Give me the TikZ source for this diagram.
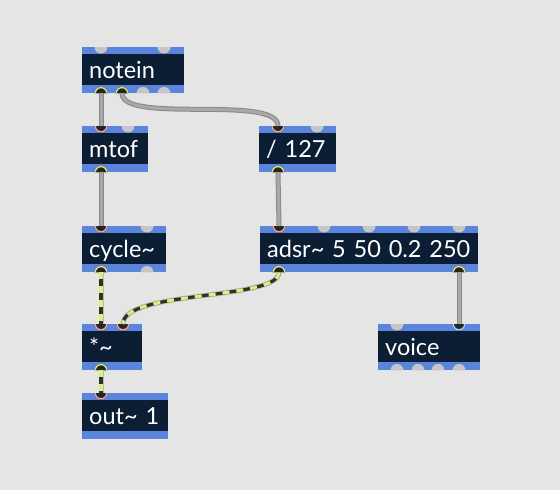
\documentclass[tikz,border=0pt]{standalone}
\usepackage{fontspec}
\setmainfont{Lato}
\usetikzlibrary{calc}

\definecolor{patchbg}{HTML}{E5E5E5}
\definecolor{objdark}{HTML}{0C1E34}
\definecolor{objblue}{HTML}{5B84DC}
\definecolor{portgrey}{HTML}{C6C6C6}
\definecolor{portdark}{HTML}{252525}
\definecolor{inring}{HTML}{F2A592}
\definecolor{outring}{HTML}{D9E46E}
\definecolor{sigring}{HTML}{9FDCF2}
\definecolor{cablegrey}{HTML}{A8A8A8}
\definecolor{cableedge}{HTML}{8A8A8A}
\definecolor{sigyellow}{HTML}{D8F07E}
\definecolor{sigdark}{HTML}{2E3322}

\newcommand{\tld}{\textasciitilde}

% grey (unused) inlets and outlets
\newcommand{\greyin}[2]{%
  \fill[portgrey] ($(#1.north west)+(#2,0)+(-6.5pt,0)$) arc[start angle=180,end angle=360,radius=6.5pt] -- cycle;}
\newcommand{\greyout}[2]{%
  \fill[portgrey] ($(#1.south west)+(#2,0)+(-6.5pt,0)$) arc[start angle=180,end angle=0,radius=6.5pt] -- cycle;}

% connected inlets and outlets
\newcommand{\portin}[4]{%
  \coordinate (#1) at ($(#2.north west)+(#3,0)$);
  \fill[portdark] ([xshift=-6.5pt]#1) arc[start angle=180,end angle=360,radius=6.5pt] -- cycle;
  \draw[#4, line width=1.4pt] ([xshift=-5.8pt]#1) arc[start angle=180,end angle=360,radius=5.8pt];}
\newcommand{\portout}[4]{%
  \coordinate (#1) at ($(#2.south west)+(#3,0)$);
  \fill[portdark] ([xshift=-6.5pt]#1) arc[start angle=180,end angle=0,radius=6.5pt] -- cycle;
  \draw[#4, line width=1.4pt] ([xshift=-5.8pt]#1) arc[start angle=180,end angle=0,radius=5.8pt];}

\tikzset{
  maxobj/.style={rectangle, anchor=north west, fill=objdark, text=white,
    font=\fontsize{23.5}{27}\selectfont, text width=#1, align=left,
    text height=18pt, text depth=2pt, minimum height=46pt,
    inner xsep=7pt, inner ysep=0pt,
    path picture={
      \fill[objblue] (path picture bounding box.north west) rectangle ([yshift=-7pt]path picture bounding box.north east);
      \fill[objblue] (path picture bounding box.south west) rectangle ([yshift=8pt]path picture bounding box.south east);}},
  patchcord/.style={draw=cableedge, line width=1pt, double=cablegrey, double distance=3pt},
  sigcord/.style={draw=cableedge!60, line width=5pt,
    postaction={draw=sigdark, line width=3.2pt},
    postaction={draw=sigyellow, line width=3.2pt, dash pattern=on 7pt off 7pt}},
}

\begin{document}
\begin{tikzpicture}[x=1pt, y=-1pt]
  \useasboundingbox[fill=patchbg] (0,0) rectangle (560,490);

  % objects
  \node[maxobj=88pt] (notein) at (82,47) {notein};
  \node[maxobj=52pt] (mtof) at (82,126) {mtof};
  \node[maxobj=63pt] (div) at (259,126) {/ 127};
  \node[maxobj=70pt] (cycle) at (82,226) {cycle\tld};
  \node[maxobj=204pt] (adsr) at (260,226) {adsr\tld{} 5 50 0.2 250};
  \node[maxobj=46pt] (mul) at (82,324) {*\tld};
  \node[maxobj=72pt] (dac) at (82,393) {out\tld{} 1};
  \node[maxobj=88pt] (voice) at (378,324) {voice};

  % ports
  \greyin{notein}{19} \greyin{notein}{82}
  \portout{noteout1}{notein}{19}{outring}
  \portout{noteout2}{notein}{40}{outring}
  \greyout{notein}{61} \greyout{notein}{82}

  \portin{mtofin}{mtof}{19}{inring} \greyin{mtof}{46}
  \portout{mtofout}{mtof}{19}{outring}

  \portin{divin}{div}{19}{inring} \greyin{div}{58}
  \portout{divout}{div}{19}{outring}

  \portin{cyclein}{cycle}{19}{inring} \greyin{cycle}{65}
  \portout{cycleout}{cycle}{19}{outring} \greyout{cycle}{65}

  \portin{adsrin}{adsr}{19}{inring}
  \foreach \px in {64,109,154,199} {\greyin{adsr}{\px}}
  \portout{adsrout1}{adsr}{19}{outring}
  \portout{adsrout2}{adsr}{199}{outring}

  \portin{mulin1}{mul}{19}{inring}
  \portin{mulin2}{mul}{41}{inring}
  \portout{mulout}{mul}{19}{outring}

  \portin{dacin}{dac}{19}{inring}

  \greyin{voice}{19}
  \portin{voicein}{voice}{81}{sigring}
  \foreach \px in {19,40,60,81} {\greyout{voice}{\px}}

  % cords
  \draw[patchcord] (noteout1) -- (mtofin);
  \draw[patchcord] (noteout2) .. controls ($(noteout2)+(0,31)$) and ($(divin)+(0,-32)$) .. (divin);
  \draw[patchcord] (mtofout) -- (cyclein);
  \draw[patchcord] (divout) -- (adsrin);
  \draw[patchcord] (adsrout2) -- (voicein);
  \draw[sigcord] (cycleout) -- (mulin1);
  \draw[sigcord] (adsrout1) .. controls ($(adsrout1)+(0,28)$) and ($(mulin2)+(0,-34)$) .. (mulin2);
  \draw[sigcord] (mulout) -- (dacin);
\end{tikzpicture}
\end{document}
